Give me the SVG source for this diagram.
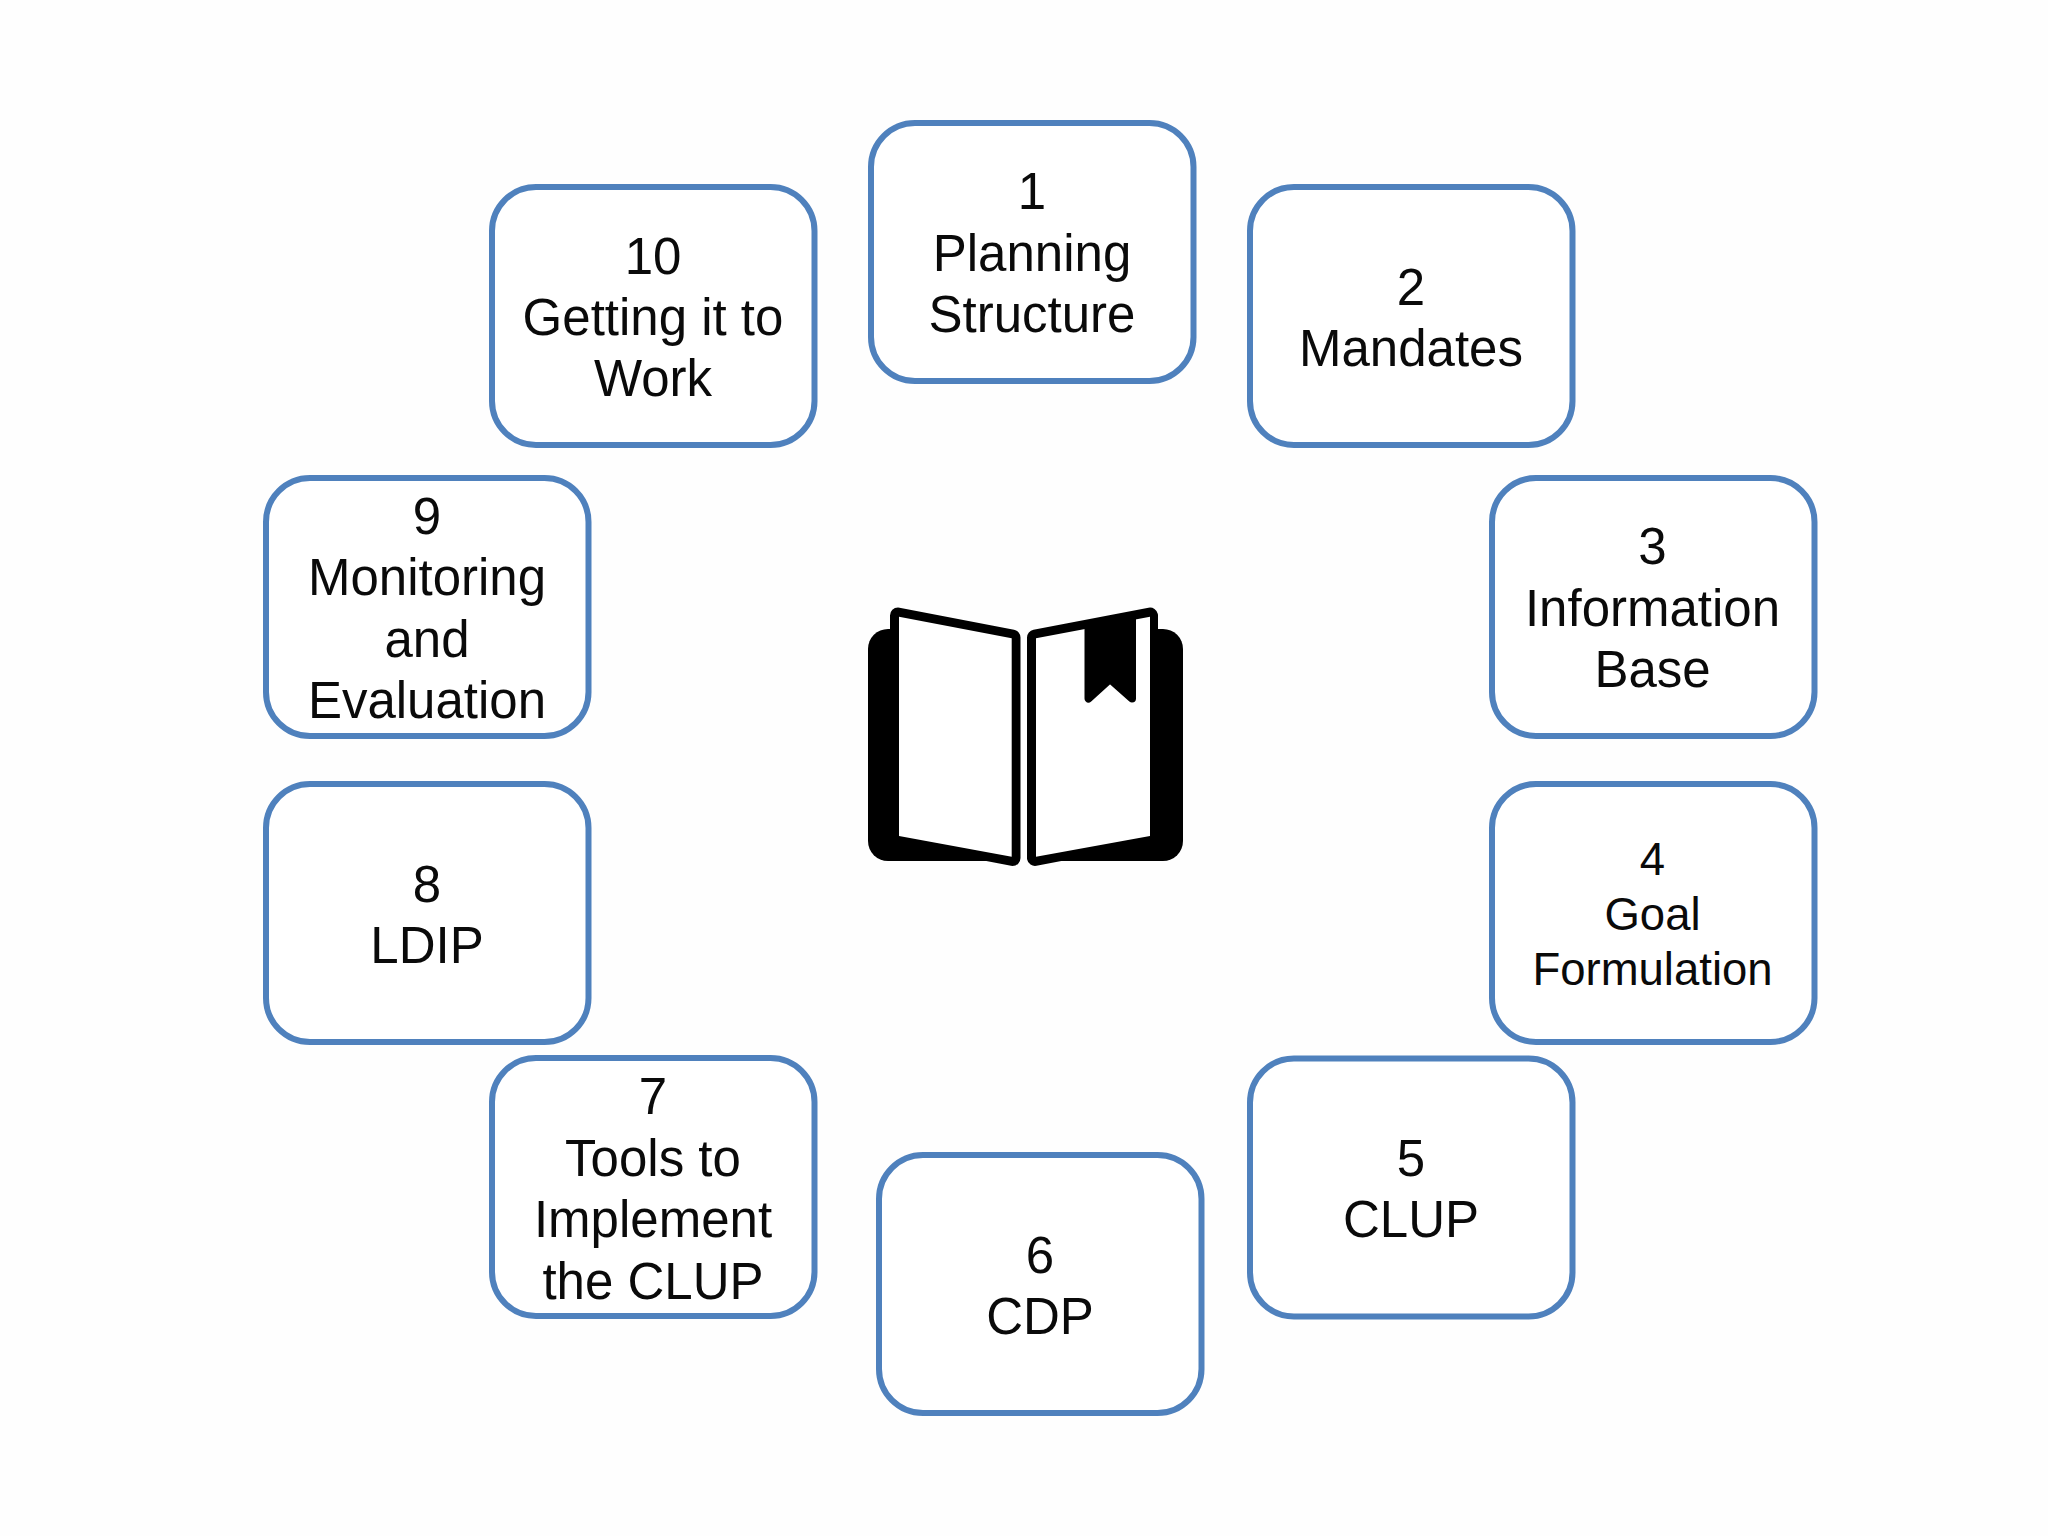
<svg xmlns="http://www.w3.org/2000/svg" width="2048" height="1536" viewBox="0 0 2048 1536">
<style>
.box{fill:#fff;stroke:#4f81bd;stroke-width:6}
.t{font-family:"Liberation Sans",Arial,sans-serif;font-size:51px;fill:#0a0a0a;text-anchor:middle;transform:translateY(.3px)}
.s{font-size:45.5px}
.ink{fill:#000}
.edge{fill:#000;stroke:#000;stroke-width:16;stroke-linejoin:round}
.leaf{fill:#fff}
</style>
<defs><rect id="b" width="322.500" height="258" rx="44" class="box"/></defs>
<rect width="2048" height="1536" fill="#fefefe"/>
<g id="node1"><use href="#b" x="871" y="123"/><text class="t"><tspan x="1032" y="209">1</tspan><tspan x="1032" y="271">Planning</tspan><tspan x="1032" y="332">Structure</tspan></text></g>
<g id="node2"><use href="#b" x="1250" y="187"/><text class="t"><tspan x="1411" y="305">2</tspan><tspan x="1411" y="366">Mandates</tspan></text></g>
<g id="node3"><use href="#b" x="1492" y="478"/><text class="t"><tspan x="1652.500" y="564">3</tspan><tspan x="1652.500" y="626">Information</tspan><tspan x="1652.500" y="687">Base</tspan></text></g>
<g id="node4"><use href="#b" x="1492" y="784"/><text class="t s"><tspan x="1652.500" y="875">4</tspan><tspan x="1652.500" y="930">Goal</tspan><tspan x="1652.500" y="985">Formulation</tspan></text></g>
<g id="node5"><use href="#b" x="1250" y="1058.500"/><text class="t"><tspan x="1411" y="1176">5</tspan><tspan x="1411" y="1237">CLUP</tspan></text></g>
<g id="node6"><use href="#b" x="879" y="1155"/><text class="t"><tspan x="1040" y="1273">6</tspan><tspan x="1040" y="1334">CDP</tspan></text></g>
<g id="node7"><use href="#b" x="492" y="1058"/><text class="t"><tspan x="653" y="1114">7</tspan><tspan x="653" y="1176">Tools to</tspan><tspan x="653" y="1237">Implement</tspan><tspan x="653" y="1299">the CLUP</tspan></text></g>
<g id="node8"><use href="#b" x="266" y="784"/><text class="t"><tspan x="427" y="902">8</tspan><tspan x="427" y="963">LDIP</tspan></text></g>
<g id="node9"><use href="#b" x="266" y="478"/><text class="t"><tspan x="427" y="534">9</tspan><tspan x="427" y="595">Monitoring</tspan><tspan x="427" y="657">and</tspan><tspan x="427" y="718">Evaluation</tspan></text></g>
<g id="node10"><use href="#b" x="492" y="187"/><text class="t"><tspan x="653" y="274">10</tspan><tspan x="653" y="335">Getting it to</tspan><tspan x="653" y="396">Work</tspan></text></g>
<g id="book">
<path class="ink" d="M1000 629H888a20 20 0 0 0-20 20V841a20 20 0 0 0 20 20H1000Z"/>
<path class="ink" d="M1050 629H1163a20 20 0 0 1 20 20V841a20 20 0 0 1-20 20H1050Z"/>
<polygon class="edge" points="898,615.500 1012.500,637.500 1012.500,858 898,836"/>
<polygon class="leaf" points="899,616.700 1011.700,638.300 1011.700,856.700 899,836"/>
<polygon class="edge" points="1035,637.500 1150,615.500 1150,836 1035,858"/>
<polygon class="leaf" points="1036,638.300 1150,616.700 1150,836 1036,856.700"/>
<path class="ink" d="M1088.500 625L1132 617V698.500L1110 679L1088.500 698.500Z" stroke="#000" stroke-width="8" stroke-linejoin="round"/>
</g>
</svg>
